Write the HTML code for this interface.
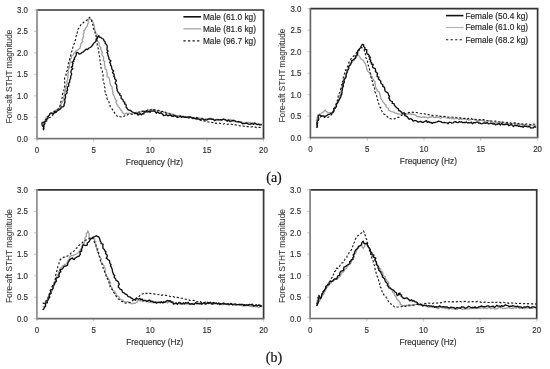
<!DOCTYPE html>
<html><head><meta charset="utf-8"><title>STHT magnitude</title>
<style>html,body{margin:0;padding:0;background:#fff;}body{width:550px;height:369px;overflow:hidden;}svg{display:block;filter:blur(0.3px);} .t text{stroke:#333;stroke-width:0.18px;}</style></head><body>
<svg width="550" height="369" viewBox="0 0 550 369">
<rect x="0" y="0" width="550" height="369" fill="#fff"/>
<g font-family="'Liberation Sans', Arial, sans-serif" class="t"><line x1="34.0" y1="138.7" x2="37.0" y2="138.7" stroke="#c8c8c8" stroke-width="1"/>
<line x1="34.0" y1="117.2" x2="37.0" y2="117.2" stroke="#c8c8c8" stroke-width="1"/>
<line x1="34.0" y1="95.8" x2="37.0" y2="95.8" stroke="#c8c8c8" stroke-width="1"/>
<line x1="34.0" y1="74.3" x2="37.0" y2="74.3" stroke="#c8c8c8" stroke-width="1"/>
<line x1="34.0" y1="52.9" x2="37.0" y2="52.9" stroke="#c8c8c8" stroke-width="1"/>
<line x1="34.0" y1="31.4" x2="37.0" y2="31.4" stroke="#c8c8c8" stroke-width="1"/>
<line x1="34.0" y1="10.0" x2="37.0" y2="10.0" stroke="#c8c8c8" stroke-width="1"/>
<line x1="37.0" y1="138.7" x2="37.0" y2="141.7" stroke="#c8c8c8" stroke-width="1"/>
<line x1="93.6" y1="138.7" x2="93.6" y2="141.7" stroke="#c8c8c8" stroke-width="1"/>
<line x1="150.2" y1="138.7" x2="150.2" y2="141.7" stroke="#c8c8c8" stroke-width="1"/>
<line x1="206.9" y1="138.7" x2="206.9" y2="141.7" stroke="#c8c8c8" stroke-width="1"/>
<line x1="263.5" y1="138.7" x2="263.5" y2="141.7" stroke="#c8c8c8" stroke-width="1"/>
<line x1="37.0" y1="10.0" x2="264.3" y2="10.0" stroke="#333" stroke-width="1.7"/>
<line x1="263.5" y1="10.0" x2="263.5" y2="138.7" stroke="#363636" stroke-width="1.7"/>
<line x1="37.0" y1="138.7" x2="264.3" y2="138.7" stroke="#777" stroke-width="1.7"/>
<line x1="37.0" y1="9.2" x2="37.0" y2="139.5" stroke="#8a8a8a" stroke-width="1.7"/>
<text transform="translate(28.0,141.7) scale(0.9,1)" text-anchor="end" font-size="8.8" fill="#333">0.0</text>
<text transform="translate(28.0,120.2) scale(0.9,1)" text-anchor="end" font-size="8.8" fill="#333">0.5</text>
<text transform="translate(28.0,98.8) scale(0.9,1)" text-anchor="end" font-size="8.8" fill="#333">1.0</text>
<text transform="translate(28.0,77.3) scale(0.9,1)" text-anchor="end" font-size="8.8" fill="#333">1.5</text>
<text transform="translate(28.0,55.9) scale(0.9,1)" text-anchor="end" font-size="8.8" fill="#333">2.0</text>
<text transform="translate(28.0,34.4) scale(0.9,1)" text-anchor="end" font-size="8.8" fill="#333">2.5</text>
<text transform="translate(28.0,13.0) scale(0.9,1)" text-anchor="end" font-size="8.8" fill="#333">3.0</text>
<text transform="translate(37.0,153.2) scale(0.9,1)" text-anchor="middle" font-size="8.8" fill="#333">0</text>
<text transform="translate(93.6,153.2) scale(0.9,1)" text-anchor="middle" font-size="8.8" fill="#333">5</text>
<text transform="translate(150.2,153.2) scale(0.9,1)" text-anchor="middle" font-size="8.8" fill="#333">10</text>
<text transform="translate(206.9,153.2) scale(0.9,1)" text-anchor="middle" font-size="8.8" fill="#333">15</text>
<text transform="translate(263.5,153.2) scale(0.9,1)" text-anchor="middle" font-size="8.8" fill="#333">20</text>
<text x="154.4" y="164.9" text-anchor="middle" font-size="8.3" fill="#333">Frequency (Hz)</text>
<text transform="translate(11.8,76.5) rotate(-90)" x="0" y="0" text-anchor="middle" font-size="8.3" fill="#3a3a3a" style="stroke-width:0.08px">Fore-aft STHT magnitude</text>
<polyline points="42.4,121.4 43.1,122.3 43.9,123.2 43.8,124.5 44.5,123.3 44.0,121.8 45.1,120.8 45.5,119.5 46.0,118.4 46.2,117.1 47.5,116.5 48.5,115.6 49.5,114.6 50.0,113.3 51.5,113.2 52.4,112.5 53.5,112.0 54.2,110.8 55.5,111.0 56.1,109.7 57.5,109.6 58.4,108.7 59.5,108.0 60.7,107.0 61.0,105.5 60.9,104.1 61.6,103.0 62.5,102.0 63.0,100.8 63.9,99.7 63.6,98.3 63.8,97.0 63.9,95.7 65.2,94.7 64.0,93.1 65.0,92.0 65.9,90.9 65.3,89.5 65.3,88.3 65.6,87.0 66.5,86.0 66.4,84.6 67.4,83.3 66.6,81.7 67.4,80.4 67.5,79.0 68.0,77.6 67.7,76.2 68.2,74.8 67.6,73.3 68.6,72.0 68.1,70.5 68.5,69.1 69.5,67.8 69.3,66.4 69.6,65.0 69.5,63.8 70.1,62.6 70.1,61.4 70.0,60.1 70.5,59.0 71.5,57.7 71.5,56.0 72.7,55.5 73.4,54.5 74.0,53.0 75.3,52.2 76.1,50.9 77.5,50.0 78.8,49.1 80.0,48.2 80.3,46.9 80.6,45.5 80.9,43.9 81.8,42.5 82.9,41.5 81.9,39.9 82.9,38.9 83.0,37.5 83.8,36.2 83.1,34.7 83.9,33.4 84.2,32.0 83.8,30.6 85.2,29.7 85.3,28.4 86.2,27.5 87.2,26.4 87.4,25.0 87.8,23.8 88.6,22.6 87.9,21.2 88.5,20.0 89.0,18.5 90.4,19.5 91.5,19.6 92.5,20.5 92.7,21.8 93.3,22.9 93.9,24.0 94.0,25.3 94.5,26.5 94.1,27.9 94.9,29.0 94.4,30.3 95.5,31.2 95.5,32.4 96.0,33.5 97.1,34.5 96.4,36.1 96.9,37.3 97.5,38.5 97.1,40.0 97.7,41.3 99.0,42.4 99.2,43.7 99.1,45.2 99.7,46.4 100.9,47.5 100.6,49.0 101.4,50.1 101.9,51.4 102.4,52.7 101.7,54.3 102.5,55.5 103.4,56.6 103.5,57.8 103.6,59.1 103.1,60.5 104.7,61.4 104.4,62.7 104.5,64.0 104.3,65.3 105.2,66.4 105.0,67.8 105.3,69.1 106.6,70.1 106.7,71.4 107.1,72.7 107.2,74.0 107.0,75.4 107.2,76.7 108.9,77.6 109.3,78.9 109.6,80.2 109.9,81.4 109.9,82.8 110.3,84.0 110.6,85.3 111.5,86.3 112.3,87.4 112.0,88.8 112.5,90.0 112.6,91.3 113.1,92.5 112.8,94.0 113.6,95.0 114.3,96.2 114.6,97.4 114.9,98.7 115.6,99.8 116.8,100.6 115.9,102.3 116.6,103.4 116.9,104.6 118.0,105.5 118.2,106.8 119.4,107.5 119.9,108.5 120.4,109.6 121.8,110.6 122.1,112.3 123.2,113.4 124.5,114.2 125.5,113.3 126.6,113.1 127.8,113.7 129.4,113.2 131.0,113.7 132.4,112.9 134.0,113.2 135.1,112.8 136.2,112.2 137.5,112.8 138.5,111.7 139.7,111.7 141.0,112.0 142.3,110.9 144.0,111.2 145.4,110.6 147.0,110.5 148.0,109.4 149.5,110.5 150.5,109.6 151.6,110.1 153.0,109.6 154.0,110.5 155.6,110.4 157.0,111.2 158.4,111.1 159.7,111.2 161.0,111.6 162.4,111.1 163.6,112.5 165.0,112.0 165.8,113.3 167.3,112.9 168.5,113.4 169.9,113.3 170.8,114.4 172.3,114.0 173.5,114.7 174.8,114.9 176.0,115.6 177.3,116.4 178.9,115.5 180.4,115.6 181.7,116.6 183.0,117.5 184.3,116.8 185.7,116.3 187.0,117.0 188.4,117.2 189.8,116.4 191.1,117.3 192.5,117.4 193.8,118.4 195.2,118.4 196.6,118.3 198.0,118.2 199.4,118.0 200.7,118.4 202.1,118.2 203.4,119.0 204.6,119.4 205.7,118.9 206.9,119.2 208.0,118.6 209.3,118.3 210.7,118.1 212.0,118.6 213.2,119.3 214.4,119.7 215.7,119.6 217.0,119.2 218.2,119.8 219.4,119.9 220.6,119.9 221.8,119.6 223.2,119.2 224.6,119.8 226.0,119.8 227.4,119.7 228.9,119.3 230.3,119.4 231.6,120.3 233.1,120.2 234.6,120.4 236.0,121.0 237.3,121.5 238.6,122.2 240.1,121.5 241.4,121.8 242.4,122.7 243.6,123.0 244.7,123.1 246.0,122.5 247.3,122.4 248.7,122.3 250.0,122.4 251.3,123.0 252.5,122.6 253.7,122.8 254.8,123.7 256.0,123.6 257.1,124.4 258.3,124.4 259.6,123.9 260.8,124.3 262.0,124.2" fill="none" stroke="#a0a0a0" stroke-width="1.3" stroke-linejoin="round"/>
<polyline points="42.8,123.2 43.9,122.3 44.5,121.0 45.2,119.9 46.5,119.4 47.8,118.6 49.0,117.6 50.3,117.3 51.1,116.3 52.5,115.5 53.5,114.2 54.5,113.7 55.2,112.7 56.0,112.0 56.5,110.7 57.8,109.8 58.3,108.5 58.6,107.3 59.6,106.4 60.2,105.3 60.3,104.0 60.5,102.9 60.8,101.7 61.6,100.7 61.4,99.5 62.1,98.2 62.3,96.8 62.2,95.5 62.5,94.3 62.8,93.1 63.8,92.0 63.9,90.8 63.9,89.5 63.7,88.2 64.5,87.1 64.8,85.9 64.5,84.6 64.8,83.2 64.6,81.9 64.9,80.5 64.6,79.1 64.6,77.7 65.2,76.4 66.0,75.3 66.0,74.0 66.2,72.7 66.5,71.5 67.3,70.3 67.1,68.9 67.9,67.8 67.9,66.4 68.5,65.2 68.3,63.8 68.6,62.6 69.2,61.4 69.4,60.1 69.7,58.8 70.3,57.7 70.6,56.4 70.7,55.0 71.2,53.7 71.3,52.3 72.0,51.0 72.7,49.7 72.6,48.2 73.0,46.9 73.4,45.5 73.8,44.4 74.5,43.4 74.4,42.1 74.8,41.0 75.5,40.0 75.5,38.7 75.8,37.6 76.1,36.4 76.5,35.3 76.3,34.1 77.1,33.1 77.5,32.0 77.6,30.6 77.9,29.3 78.8,28.2 79.8,27.3 80.2,26.0 80.6,25.0 81.5,24.5 82.2,23.7 82.9,23.0 84.3,21.8 85.6,20.8 87.0,20.0 88.2,18.5 89.4,17.3 90.4,18.5 91.5,20.0 91.6,21.4 92.1,22.7 92.5,24.0 93.0,25.4 93.1,26.8 93.4,28.2 93.8,29.6 94.0,31.0 95.1,32.1 95.2,33.6 95.4,34.8 96.0,36.0 96.3,37.2 96.1,38.5 96.7,39.7 97.0,40.9 97.2,42.3 97.2,43.7 97.3,45.1 98.0,46.3 98.0,47.7 98.3,49.1 98.6,50.4 98.8,51.8 98.8,53.2 99.3,54.5 99.4,55.9 99.7,57.2 99.5,58.7 100.0,60.0 100.0,61.4 100.6,62.7 100.4,64.0 101.3,65.1 101.2,66.3 101.0,67.6 101.3,68.8 102.2,69.9 102.5,71.1 102.3,72.4 102.5,73.6 103.1,74.9 103.1,76.3 103.5,77.6 103.1,79.0 103.1,80.4 103.2,81.7 103.8,83.0 104.4,84.2 104.1,85.6 104.4,86.8 105.1,88.0 105.0,89.3 104.9,90.6 105.1,91.8 106.1,92.8 105.7,94.1 106.5,95.2 106.7,96.4 107.0,97.6 107.0,98.8 107.6,99.8 108.3,100.7 109.0,101.9 109.2,103.2 109.5,104.5 110.1,105.7 110.3,107.0 111.5,108.5 112.4,109.4 113.0,110.5 113.3,111.7 114.5,112.4 114.8,113.7 115.8,114.8 117.0,115.8 118.0,116.9 119.1,116.4 120.2,116.7 121.3,116.9 122.4,116.8 123.4,116.4 124.5,116.1 125.4,115.2 126.9,115.5 127.8,114.5 129.4,114.5 131.0,114.0 132.1,114.4 133.2,113.4 134.3,113.7 135.3,113.2 136.3,112.8 137.5,113.0 138.7,112.9 139.6,112.1 140.8,112.0 141.8,111.4 142.9,111.4 144.0,111.2 145.2,111.3 146.3,111.0 147.3,110.4 148.9,110.0 150.5,110.0 151.6,109.5 152.8,110.1 153.8,109.6 154.8,109.9 155.9,110.3 157.0,110.4 158.2,110.3 159.3,110.5 160.3,111.2 161.4,111.6 162.7,111.5 163.9,111.4 165.0,112.0 166.0,112.9 167.3,113.2 168.4,113.8 169.8,113.7 170.8,114.6 172.0,115.3 173.5,114.9 174.6,116.0 176.0,116.0 177.4,116.2 178.9,116.3 180.3,116.8 181.7,117.0 183.0,117.6 184.4,117.2 185.7,117.2 187.0,117.8 188.4,118.0 189.8,117.9 191.2,118.0 192.5,118.6 193.9,118.5 195.3,118.7 196.7,119.1 198.0,119.6 199.4,119.8 200.7,120.1 202.0,120.9 203.4,121.0 204.6,121.0 205.7,121.5 206.9,121.4 208.0,122.0 209.4,122.0 210.7,121.9 212.0,122.6 213.3,122.5 214.6,122.4 215.7,123.3 217.0,123.2 218.2,123.4 219.4,123.1 220.6,123.5 221.8,123.6 223.2,124.2 224.6,123.5 226.0,124.0 227.4,124.4 228.8,124.0 230.2,124.1 231.6,124.2 233.0,124.8 234.6,124.6 236.0,125.0 237.3,125.2 238.7,125.5 240.0,126.0 241.4,125.7 242.6,125.7 243.7,126.3 244.8,126.4 246.0,126.3 247.3,126.6 248.7,126.6 250.0,126.7 251.3,127.0 252.5,126.7 253.7,126.8 254.9,126.9 256.0,127.4 257.2,127.8 258.4,127.4 259.6,127.4 260.8,127.5 262.0,128.0" fill="none" stroke="#1a1a1a" stroke-width="1.15" stroke-dasharray="2.2,1.9"/>
<polyline points="42.4,122.1 41.9,123.5 42.0,124.7 42.6,126.0 43.6,127.1 43.9,128.4 43.5,129.7 43.3,128.3 44.0,127.0 43.6,125.5 44.6,124.3 44.9,123.0 44.9,121.7 46.7,120.9 46.2,119.4 47.9,118.6 47.8,116.7 48.7,116.0 49.5,115.1 49.9,113.7 51.1,112.9 52.7,114.0 54.3,113.1 54.3,111.3 55.4,111.5 56.0,112.3 56.6,111.3 57.6,110.7 59.2,109.6 60.8,108.6 61.3,106.9 63.0,106.9 64.1,105.8 64.1,104.6 64.5,103.6 64.8,102.5 65.0,101.1 64.6,99.6 65.4,98.2 65.6,96.8 65.2,95.1 66.2,93.9 67.2,92.8 66.7,91.2 67.6,90.0 67.2,88.5 67.5,87.1 68.8,86.0 68.6,84.7 68.7,83.4 69.6,82.3 69.7,81.0 69.9,79.7 70.6,78.7 70.7,77.6 70.6,76.4 71.2,75.2 71.7,74.0 70.9,72.5 71.0,71.2 71.5,70.0 72.8,68.8 71.3,67.1 72.7,66.0 72.5,64.5 73.0,63.4 72.0,62.1 73.9,61.3 73.4,60.0 74.6,59.5 74.3,58.2 75.0,57.1 75.7,56.1 76.3,55.0 76.1,53.6 76.7,52.5 77.9,52.7 79.2,54.0 80.6,53.6 82.0,52.5 83.4,51.8 84.8,50.5 86.1,49.1 87.5,49.5 88.8,48.2 90.2,47.5 91.5,46.4 92.2,45.5 92.9,44.5 93.6,43.6 94.3,42.7 95.5,41.8 96.1,40.6 96.1,39.1 97.4,38.4 97.5,37.0 98.3,36.4 98.8,35.5 99.1,37.0 100.6,37.3 102.0,38.5 103.4,39.1 104.0,40.7 105.2,41.8 105.1,43.3 106.4,44.4 107.1,45.7 107.2,47.1 107.0,48.6 107.0,50.0 108.1,51.0 106.9,52.6 107.8,53.7 107.9,54.9 108.2,56.1 108.8,57.3 108.8,58.7 109.5,59.8 110.9,60.8 109.6,62.5 110.6,63.6 110.5,65.0 111.4,66.2 111.7,67.5 111.8,68.8 112.5,70.0 113.6,71.1 112.5,72.7 113.7,73.7 114.3,75.0 113.7,76.4 114.8,77.2 114.6,78.7 115.6,79.5 116.4,80.6 115.5,82.0 115.2,83.3 116.4,84.4 116.8,85.6 116.8,86.8 116.6,88.1 117.2,89.3 117.2,90.7 117.9,91.7 118.4,92.8 119.9,93.5 119.6,95.0 120.9,95.6 121.3,96.7 121.0,98.3 122.1,99.0 123.1,100.0 123.2,101.5 124.8,102.2 124.5,103.9 125.9,104.4 126.2,105.7 126.1,107.2 127.0,108.0 127.5,109.1 128.3,109.9 129.4,110.4 130.7,110.5 131.5,111.5 132.6,112.0 133.7,112.5 134.8,113.1 135.9,113.7 137.2,113.2 137.8,115.0 139.1,114.5 140.1,113.6 141.5,114.9 142.4,113.7 143.9,113.9 144.1,111.7 145.7,112.0 146.7,111.6 148.0,112.1 148.9,111.2 150.0,112.2 151.1,111.1 152.2,111.2 153.4,111.0 154.5,111.1 155.4,112.0 156.3,113.2 157.7,111.9 158.7,112.8 159.7,113.3 161.0,112.7 161.9,113.7 162.9,114.3 163.5,115.6 165.0,115.3 166.4,114.5 167.9,115.9 169.4,115.2 170.8,115.2 171.9,116.3 173.3,116.3 174.8,115.6 176.0,116.5 177.3,117.5 178.9,116.8 180.4,116.0 181.7,117.2 183.0,116.2 184.4,117.2 185.7,117.2 187.0,117.3 188.4,117.0 189.8,116.8 191.2,117.3 192.5,117.8 193.9,117.6 195.1,118.9 196.8,117.4 198.0,118.6 199.3,119.3 200.6,119.7 202.2,118.4 203.4,119.4 204.6,120.2 205.7,119.7 206.9,120.1 208.0,119.2 209.3,118.8 210.7,119.0 212.0,119.3 213.3,119.2 214.4,120.6 215.7,119.9 217.0,119.8 218.2,119.6 219.4,119.8 220.6,119.6 221.8,120.1 223.2,119.2 224.6,119.4 226.0,120.3 227.3,121.1 228.8,120.1 230.1,121.6 231.6,120.8 233.2,120.5 234.6,120.8 236.0,121.6 237.3,121.9 238.8,121.5 240.1,122.1 241.4,122.6 242.5,123.7 243.6,123.6 244.8,123.6 246.0,123.0 247.3,123.4 248.6,124.2 249.9,124.4 251.3,123.6 252.5,123.8 253.6,124.3 254.9,123.0 256.0,124.0 257.2,124.6 258.4,124.1 259.5,124.9 260.8,124.8 262.0,124.6" fill="none" stroke="#111" stroke-width="1.35" stroke-linejoin="round"/>
<line x1="183.4" y1="16.8" x2="201.0" y2="16.8" stroke="#111" stroke-width="1.6"/>
<line x1="183.4" y1="28.8" x2="201.0" y2="28.8" stroke="#b0b0b0" stroke-width="1.5"/>
<line x1="183.4" y1="40.9" x2="201.0" y2="40.9" stroke="#1a1a1a" stroke-width="1.3" stroke-dasharray="2.3,2.25"/>
<text x="202.9" y="19.8" font-size="8.3" fill="#222">Male (61.0 kg)</text>
<text x="202.9" y="31.7" font-size="8.3" fill="#222">Male (81.6 kg)</text>
<text x="202.9" y="43.7" font-size="8.3" fill="#222">Male (96.7 kg)</text></g>
<g font-family="'Liberation Sans', Arial, sans-serif" class="t"><line x1="307.4" y1="137.7" x2="310.4" y2="137.7" stroke="#c8c8c8" stroke-width="1"/>
<line x1="307.4" y1="116.2" x2="310.4" y2="116.2" stroke="#c8c8c8" stroke-width="1"/>
<line x1="307.4" y1="94.7" x2="310.4" y2="94.7" stroke="#c8c8c8" stroke-width="1"/>
<line x1="307.4" y1="73.2" x2="310.4" y2="73.2" stroke="#c8c8c8" stroke-width="1"/>
<line x1="307.4" y1="51.7" x2="310.4" y2="51.7" stroke="#c8c8c8" stroke-width="1"/>
<line x1="307.4" y1="30.2" x2="310.4" y2="30.2" stroke="#c8c8c8" stroke-width="1"/>
<line x1="307.4" y1="8.7" x2="310.4" y2="8.7" stroke="#c8c8c8" stroke-width="1"/>
<line x1="310.4" y1="137.7" x2="310.4" y2="140.7" stroke="#c8c8c8" stroke-width="1"/>
<line x1="367.2" y1="137.7" x2="367.2" y2="140.7" stroke="#c8c8c8" stroke-width="1"/>
<line x1="424.0" y1="137.7" x2="424.0" y2="140.7" stroke="#c8c8c8" stroke-width="1"/>
<line x1="480.8" y1="137.7" x2="480.8" y2="140.7" stroke="#c8c8c8" stroke-width="1"/>
<line x1="537.6" y1="137.7" x2="537.6" y2="140.7" stroke="#c8c8c8" stroke-width="1"/>
<line x1="310.4" y1="8.7" x2="538.4" y2="8.7" stroke="#333" stroke-width="1.7"/>
<line x1="537.6" y1="8.7" x2="537.6" y2="137.7" stroke="#363636" stroke-width="1.7"/>
<line x1="310.4" y1="137.7" x2="538.4" y2="137.7" stroke="#747474" stroke-width="1.7"/>
<line x1="310.4" y1="7.9" x2="310.4" y2="138.5" stroke="#666" stroke-width="1.7"/>
<text transform="translate(301.4,140.7) scale(0.9,1)" text-anchor="end" font-size="8.8" fill="#333">0.0</text>
<text transform="translate(301.4,119.2) scale(0.9,1)" text-anchor="end" font-size="8.8" fill="#333">0.5</text>
<text transform="translate(301.4,97.7) scale(0.9,1)" text-anchor="end" font-size="8.8" fill="#333">1.0</text>
<text transform="translate(301.4,76.2) scale(0.9,1)" text-anchor="end" font-size="8.8" fill="#333">1.5</text>
<text transform="translate(301.4,54.7) scale(0.9,1)" text-anchor="end" font-size="8.8" fill="#333">2.0</text>
<text transform="translate(301.4,33.2) scale(0.9,1)" text-anchor="end" font-size="8.8" fill="#333">2.5</text>
<text transform="translate(301.4,11.7) scale(0.9,1)" text-anchor="end" font-size="8.8" fill="#333">3.0</text>
<text transform="translate(310.4,152.2) scale(0.9,1)" text-anchor="middle" font-size="8.8" fill="#333">0</text>
<text transform="translate(367.2,152.2) scale(0.9,1)" text-anchor="middle" font-size="8.8" fill="#333">5</text>
<text transform="translate(424.0,152.2) scale(0.9,1)" text-anchor="middle" font-size="8.8" fill="#333">10</text>
<text transform="translate(480.8,152.2) scale(0.9,1)" text-anchor="middle" font-size="8.8" fill="#333">15</text>
<text transform="translate(537.6,152.2) scale(0.9,1)" text-anchor="middle" font-size="8.8" fill="#333">20</text>
<text x="428.4" y="163.7" text-anchor="middle" font-size="8.3" fill="#333">Frequency (Hz)</text>
<text transform="translate(285.2,75.6) rotate(-90)" x="0" y="0" text-anchor="middle" font-size="8.3" fill="#3a3a3a" style="stroke-width:0.08px">Fore-aft STHT magnitude</text>
<polyline points="316.3,121.0 316.5,119.9 317.3,119.1 317.0,117.7 318.8,116.9 317.9,115.3 318.9,114.3 320.1,113.9 321.4,113.5 322.4,112.4 323.8,111.8 324.4,110.8 325.4,110.2 326.0,111.3 327.1,111.8 328.0,113.0 329.5,112.6 330.8,112.7 331.9,113.5 332.8,112.6 333.2,111.5 333.5,110.3 334.4,109.4 335.0,108.5 335.3,107.4 336.0,106.5 336.0,105.1 336.5,103.9 337.6,102.9 337.6,101.4 339.1,100.5 338.9,99.0 339.3,97.6 339.2,96.1 340.1,94.8 341.1,93.7 341.5,92.5 340.9,91.0 340.6,89.6 341.5,88.5 341.5,87.3 342.5,86.6 342.2,85.1 342.9,83.9 342.8,82.4 343.4,81.1 343.7,79.8 344.6,78.6 344.8,77.2 345.9,76.0 346.3,74.6 346.4,73.0 346.8,71.6 347.3,70.3 348.0,69.0 348.6,67.9 348.9,66.6 349.6,65.5 349.9,64.4 350.1,63.1 351.3,62.5 351.8,61.4 352.9,60.8 354.2,60.6 354.5,59.3 354.6,58.0 355.7,57.5 356.4,56.8 357.0,56.0 358.2,55.5 359.4,56.0 360.0,57.2 360.5,58.6 361.8,59.3 363.0,60.1 363.8,61.2 364.3,62.5 365.3,63.5 365.7,64.9 366.2,66.1 366.7,67.4 366.6,69.0 367.4,70.1 367.9,71.4 369.1,72.3 370.4,73.2 371.1,74.4 370.7,76.1 371.6,77.2 372.3,76.6 372.2,78.1 373.3,79.2 373.7,80.6 375.1,81.5 374.8,83.1 375.5,84.3 375.1,86.0 375.7,87.2 376.2,88.5 377.2,89.6 377.0,91.0 378.7,91.6 379.4,92.6 379.9,93.7 379.8,95.0 380.4,96.1 380.7,97.3 380.8,98.6 381.7,99.5 382.4,100.5 382.7,101.7 383.7,102.6 384.4,103.5 384.9,104.6 386.3,105.1 385.9,106.8 387.0,107.5 388.3,108.2 388.5,110.0 389.8,110.7 391.0,111.6 392.5,111.8 394.0,112.1 395.1,113.2 396.5,113.1 397.7,114.0 399.1,114.0 400.3,114.5 401.7,113.7 402.9,113.9 404.0,114.8 405.2,114.6 406.5,114.5 407.6,114.0 408.9,114.0 410.2,113.7 411.3,114.6 412.7,113.8 413.8,114.8 415.1,114.9 416.3,115.6 417.2,116.8 418.7,116.5 419.9,116.9 421.1,117.5 422.5,117.0 423.8,116.8 425.0,117.4 426.2,116.9 427.4,118.1 428.6,117.6 429.8,116.9 431.0,117.2 432.3,116.4 433.5,117.3 434.7,117.6 436.0,117.4 437.2,117.3 438.4,117.1 439.6,117.8 440.8,118.3 442.0,117.6 443.3,117.2 444.6,117.0 445.8,117.6 447.0,118.0 448.2,117.9 449.4,118.5 450.6,117.7 451.8,118.8 453.0,118.4 454.2,118.9 455.5,118.6 456.8,118.2 458.0,118.8 459.1,119.7 460.4,118.6 461.6,119.6 462.8,118.7 464.0,119.2 465.2,118.8 466.4,119.8 467.6,119.1 468.7,120.3 470.0,119.6 471.3,119.7 472.5,119.3 473.8,119.4 475.0,120.0 476.3,120.0 477.5,120.6 478.7,121.2 480.0,120.6 481.3,120.1 482.4,120.7 483.6,120.5 484.7,121.9 486.0,121.2 487.3,120.7 488.5,120.7 489.7,120.8 490.8,121.5 492.0,121.8 493.1,122.6 494.3,122.7 495.6,122.6 496.7,123.1 498.0,122.4 499.1,123.3 500.4,122.4 501.7,122.2 502.7,123.6 504.0,123.0 505.2,123.5 506.5,122.4 507.6,123.6 508.8,123.3 510.0,123.6 511.2,123.5 512.4,123.6 513.7,123.4 514.9,123.2 516.0,124.2 517.2,123.9 518.4,124.2 519.5,125.3 520.9,124.0 522.0,124.8 523.1,125.7 524.4,124.5 525.6,124.9 526.7,125.8 528.0,125.4 529.3,126.0 530.7,125.5 532.1,124.9 533.3,125.8 534.7,125.7 536.0,126.0" fill="none" stroke="#a0a0a0" stroke-width="1.3" stroke-linejoin="round"/>
<polyline points="316.5,128.1 317.1,126.9 316.7,125.5 317.1,124.2 317.8,123.0 317.2,121.6 317.8,120.4 318.1,119.1 319.1,118.5 320.0,117.7 320.6,116.7 321.7,116.4 322.6,117.0 323.7,116.8 324.6,117.5 326.3,117.6 327.9,117.5 329.5,116.5 330.0,115.5 331.1,115.1 332.3,114.0 332.8,112.5 333.1,111.4 334.1,110.5 334.4,109.4 335.2,108.4 335.0,107.1 335.6,106.0 335.8,104.9 336.8,104.1 336.8,102.9 337.2,101.7 337.2,100.4 337.9,99.3 338.0,98.0 338.1,96.7 338.4,95.5 338.5,94.2 339.3,93.1 339.9,92.0 340.5,90.8 340.6,89.5 340.9,88.3 341.5,86.9 342.2,85.7 341.6,84.3 342.0,83.0 342.5,81.8 343.3,80.7 343.5,79.4 343.3,78.0 343.4,76.7 343.9,75.5 344.3,74.2 344.9,72.9 345.8,71.8 345.6,70.2 346.4,69.0 347.2,67.8 347.6,66.5 348.1,65.2 348.6,63.9 348.8,62.5 349.7,61.3 350.4,60.0 351.1,58.7 352.1,57.6 352.8,56.7 353.7,56.0 354.4,55.1 355.3,54.4 356.1,53.8 356.5,52.8 356.8,51.7 357.8,51.1 358.2,50.1 359.0,49.5 359.8,48.9 360.2,47.9 361.4,47.6 362.6,47.9 363.6,48.9 364.3,50.1 364.4,51.6 365.1,52.8 365.6,54.0 365.2,55.3 365.6,56.5 365.8,57.8 366.8,58.8 367.3,60.0 367.6,61.2 367.5,62.5 367.9,63.7 368.0,64.9 368.6,66.0 369.2,67.1 369.4,68.3 369.5,69.6 370.0,70.7 370.1,72.2 370.2,73.6 370.7,75.0 370.7,76.3 371.1,77.5 372.0,78.6 371.6,80.0 372.4,81.1 372.4,82.4 372.9,83.5 373.1,84.8 373.2,86.0 374.1,87.0 374.4,88.2 374.8,89.4 375.2,90.5 374.9,91.9 375.6,92.9 375.9,94.3 376.6,95.6 376.9,96.9 376.7,98.4 377.6,99.7 378.0,101.0 378.7,102.2 378.7,103.7 379.3,105.0 379.5,106.4 380.4,107.5 381.3,108.4 381.5,109.7 381.8,110.9 382.3,112.0 382.8,113.1 383.7,114.0 385.0,114.5 385.9,115.5 387.0,116.2 387.8,117.3 389.2,117.5 390.3,118.8 391.8,118.9 393.2,118.7 394.6,118.8 395.9,118.1 397.2,117.4 398.8,117.4 400.0,116.5 401.0,115.8 401.9,115.0 403.1,114.9 404.0,114.0 405.4,114.0 406.3,112.8 407.7,112.9 408.9,112.4 410.1,112.5 411.4,112.1 412.6,112.3 413.8,112.4 415.1,112.2 416.3,112.5 417.5,112.8 418.7,113.2 419.9,113.5 421.2,113.7 422.5,113.4 423.8,113.4 425.0,114.0 426.2,114.1 427.4,114.8 428.7,114.6 429.8,115.0 431.0,115.5 432.3,115.3 433.5,116.0 434.7,115.9 436.0,116.0 437.2,115.6 438.4,115.8 439.6,116.1 440.8,116.4 442.0,116.4 443.2,116.7 444.5,116.3 445.8,116.5 447.0,117.0 448.2,117.2 449.4,117.0 450.6,116.9 451.8,117.0 453.0,117.2 454.2,117.8 455.5,117.3 456.7,117.7 458.0,117.8 459.2,117.8 460.4,117.9 461.6,118.5 462.8,118.7 464.0,118.3 465.2,118.3 466.4,118.2 467.6,118.8 468.8,118.4 470.0,118.8 471.3,118.4 472.5,119.4 473.8,119.0 475.0,119.2 476.2,119.6 477.5,119.3 478.7,119.9 480.0,119.6 481.2,119.7 482.4,119.6 483.7,119.6 484.8,120.3 486.0,120.4 487.2,120.7 488.4,121.0 489.6,120.4 490.8,121.0 492.0,121.0 493.2,121.0 494.4,121.2 495.6,121.0 496.8,121.3 498.0,121.6 499.2,121.7 500.4,122.3 501.6,121.6 502.8,122.1 504.0,122.2 505.2,122.6 506.4,122.9 507.6,122.3 508.8,122.3 510.0,122.8 511.2,123.3 512.4,123.5 513.6,123.1 514.8,122.8 516.0,123.3 517.2,123.8 518.4,123.4 519.6,124.0 520.8,123.8 522.0,123.8 523.2,124.2 524.4,123.6 525.6,124.3 526.8,123.8 528.0,124.2 529.3,124.2 530.7,124.6 532.0,124.7 533.3,124.1 534.7,124.2 536.0,124.5" fill="none" stroke="#1a1a1a" stroke-width="1.15" stroke-dasharray="2.2,1.9"/>
<polyline points="316.5,124.0 317.1,125.5 317.2,127.0 317.4,125.6 317.2,124.3 316.8,122.9 317.2,121.5 318.3,120.3 318.8,118.9 318.1,117.5 318.2,115.7 319.8,115.0 321.4,116.0 323.0,115.9 324.6,116.5 326.3,115.9 327.2,115.4 327.9,114.6 329.5,114.3 331.1,113.3 332.8,112.6 333.9,111.5 334.0,110.0 333.7,108.4 335.2,107.8 336.5,106.7 336.4,105.0 336.3,103.6 337.6,102.9 338.4,101.5 338.9,100.0 339.6,99.1 340.1,98.0 340.9,97.1 340.8,95.7 341.7,94.8 341.7,93.5 342.1,92.3 341.9,91.0 342.5,89.8 342.3,88.5 342.7,87.4 343.3,86.3 343.4,85.0 342.8,83.6 344.3,82.6 344.3,81.3 344.0,79.9 344.8,78.8 345.7,77.7 346.2,76.4 346.0,75.0 346.5,73.6 347.2,72.3 347.1,70.8 348.2,69.7 348.8,68.5 348.6,67.0 349.2,65.8 350.4,65.0 350.9,63.7 351.7,62.5 351.5,60.9 352.9,60.1 354.0,59.2 355.3,58.5 355.8,57.5 355.3,56.1 356.6,55.5 357.5,54.3 357.8,52.8 357.5,51.1 359.3,50.2 359.4,48.7 360.7,47.8 361.0,46.3 361.7,45.3 362.3,44.3 363.7,44.7 363.6,46.2 364.3,47.1 365.1,48.0 364.7,49.6 366.8,49.7 366.7,51.1 366.7,52.5 367.0,53.7 368.1,54.4 369.1,55.2 368.9,56.6 370.5,57.4 369.4,59.2 370.8,60.1 370.3,61.6 371.6,62.5 371.3,64.0 373.2,64.5 372.5,66.2 372.7,67.4 374.0,68.2 375.4,68.7 375.5,70.1 375.4,71.6 376.5,72.3 377.5,73.5 377.2,75.0 377.1,76.6 378.8,77.2 378.4,79.0 379.6,79.9 380.8,80.9 380.7,82.4 381.3,83.7 382.9,84.8 382.6,86.4 384.4,87.2 384.8,88.5 384.8,90.0 385.3,91.3 386.4,92.1 387.7,92.7 388.3,93.9 388.6,95.3 389.7,96.2 388.7,97.9 389.7,98.9 389.8,100.2 391.0,101.0 392.4,101.6 392.2,103.4 394.1,103.6 394.3,105.1 395.3,106.2 396.2,107.4 397.5,108.3 398.5,108.9 398.6,110.5 399.9,110.9 400.8,111.6 401.7,112.3 402.4,113.5 404.2,112.7 404.8,114.0 404.8,115.7 406.2,116.2 407.4,116.9 408.1,118.1 409.2,119.2 411.0,118.7 412.2,119.7 413.1,121.1 414.5,120.7 415.9,120.6 417.0,121.3 418.1,122.1 419.5,121.6 420.8,121.3 421.9,122.2 423.6,122.2 425.0,121.3 426.4,120.6 427.3,122.4 428.7,121.5 429.7,122.5 431.0,122.4 432.3,123.4 433.5,122.5 434.8,122.6 436.0,122.2 437.2,121.8 438.4,121.2 439.6,121.3 440.8,121.6 442.0,122.4 443.2,122.7 444.5,122.5 445.7,122.7 447.0,122.8 448.2,123.7 449.4,122.1 450.6,122.3 451.8,123.2 453.0,122.9 454.2,121.8 455.4,121.7 456.7,122.4 458.0,122.6 459.2,121.7 460.4,122.2 461.6,121.9 462.8,122.6 464.0,122.4 465.2,122.7 466.4,121.9 467.6,122.9 468.8,122.7 470.0,122.8 471.3,122.1 472.5,123.8 473.8,122.4 475.0,123.0 476.2,122.2 477.5,122.1 478.8,123.2 480.0,122.9 481.1,123.8 482.4,123.7 483.6,123.0 484.8,122.8 486.0,123.4 487.2,122.4 488.4,123.8 489.6,123.7 490.8,123.2 492.0,123.6 493.2,124.0 494.4,123.6 495.5,124.8 496.8,124.4 498.0,124.0 499.3,123.6 500.3,125.1 501.7,123.4 502.8,124.5 504.0,124.6 505.2,124.5 506.5,124.3 507.7,124.0 508.7,125.7 510.0,125.2 511.3,124.3 512.4,125.5 513.5,126.5 514.9,124.9 516.0,125.8 517.3,125.3 518.4,126.3 519.6,126.2 520.8,126.6 522.0,126.4 523.1,127.2 524.5,126.0 525.6,126.4 526.8,126.5 528.0,127.0 529.4,126.1 530.6,128.0 532.0,127.8 533.3,127.8 534.7,126.4 536.0,127.5" fill="none" stroke="#111" stroke-width="1.35" stroke-linejoin="round"/>
<line x1="446.0" y1="15.6" x2="463.4" y2="15.6" stroke="#111" stroke-width="1.6"/>
<line x1="446.0" y1="27.5" x2="463.4" y2="27.5" stroke="#b0b0b0" stroke-width="1.1"/>
<line x1="446.0" y1="39.7" x2="463.4" y2="39.7" stroke="#1a1a1a" stroke-width="1.1" stroke-dasharray="2.3,2.25"/>
<text x="465.4" y="18.7" font-size="8.3" fill="#222">Female (50.4 kg)</text>
<text x="465.4" y="30.4" font-size="8.3" fill="#222">Female (61.0 kg)</text>
<text x="465.4" y="42.6" font-size="8.3" fill="#222">Female (68.2 kg)</text></g>
<g font-family="'Liberation Sans', Arial, sans-serif" class="t"><line x1="33.9" y1="318.7" x2="36.9" y2="318.7" stroke="#c8c8c8" stroke-width="1"/>
<line x1="33.9" y1="297.2" x2="36.9" y2="297.2" stroke="#c8c8c8" stroke-width="1"/>
<line x1="33.9" y1="275.8" x2="36.9" y2="275.8" stroke="#c8c8c8" stroke-width="1"/>
<line x1="33.9" y1="254.3" x2="36.9" y2="254.3" stroke="#c8c8c8" stroke-width="1"/>
<line x1="33.9" y1="232.8" x2="36.9" y2="232.8" stroke="#c8c8c8" stroke-width="1"/>
<line x1="33.9" y1="211.4" x2="36.9" y2="211.4" stroke="#c8c8c8" stroke-width="1"/>
<line x1="33.9" y1="189.9" x2="36.9" y2="189.9" stroke="#c8c8c8" stroke-width="1"/>
<line x1="36.9" y1="318.7" x2="36.9" y2="321.7" stroke="#c8c8c8" stroke-width="1"/>
<line x1="93.6" y1="318.7" x2="93.6" y2="321.7" stroke="#c8c8c8" stroke-width="1"/>
<line x1="150.2" y1="318.7" x2="150.2" y2="321.7" stroke="#c8c8c8" stroke-width="1"/>
<line x1="206.9" y1="318.7" x2="206.9" y2="321.7" stroke="#c8c8c8" stroke-width="1"/>
<line x1="263.6" y1="318.7" x2="263.6" y2="321.7" stroke="#c8c8c8" stroke-width="1"/>
<line x1="36.9" y1="189.9" x2="264.4" y2="189.9" stroke="#333" stroke-width="1.7"/>
<line x1="263.6" y1="189.9" x2="263.6" y2="318.7" stroke="#363636" stroke-width="1.7"/>
<line x1="36.9" y1="318.7" x2="264.4" y2="318.7" stroke="#6b6b6b" stroke-width="1.7"/>
<line x1="36.9" y1="189.1" x2="36.9" y2="319.5" stroke="#8e8e8e" stroke-width="1.7"/>
<text transform="translate(27.9,321.7) scale(0.9,1)" text-anchor="end" font-size="8.8" fill="#333">0.0</text>
<text transform="translate(27.9,300.2) scale(0.9,1)" text-anchor="end" font-size="8.8" fill="#333">0.5</text>
<text transform="translate(27.9,278.8) scale(0.9,1)" text-anchor="end" font-size="8.8" fill="#333">1.0</text>
<text transform="translate(27.9,257.3) scale(0.9,1)" text-anchor="end" font-size="8.8" fill="#333">1.5</text>
<text transform="translate(27.9,235.8) scale(0.9,1)" text-anchor="end" font-size="8.8" fill="#333">2.0</text>
<text transform="translate(27.9,214.4) scale(0.9,1)" text-anchor="end" font-size="8.8" fill="#333">2.5</text>
<text transform="translate(27.9,192.9) scale(0.9,1)" text-anchor="end" font-size="8.8" fill="#333">3.0</text>
<text transform="translate(36.9,333.2) scale(0.9,1)" text-anchor="middle" font-size="8.8" fill="#333">0</text>
<text transform="translate(93.6,333.2) scale(0.9,1)" text-anchor="middle" font-size="8.8" fill="#333">5</text>
<text transform="translate(150.2,333.2) scale(0.9,1)" text-anchor="middle" font-size="8.8" fill="#333">10</text>
<text transform="translate(206.9,333.2) scale(0.9,1)" text-anchor="middle" font-size="8.8" fill="#333">15</text>
<text transform="translate(263.6,333.2) scale(0.9,1)" text-anchor="middle" font-size="8.8" fill="#333">20</text>
<text x="154.8" y="345.0" text-anchor="middle" font-size="8.3" fill="#333">Frequency (Hz)</text>
<text transform="translate(11.6,256.0) rotate(-90)" x="0" y="0" text-anchor="middle" font-size="8.3" fill="#3a3a3a" style="stroke-width:0.08px">Fore-aft STHT magnitude</text>
<polyline points="42.7,306.0 44.0,307.0 45.0,306.1 45.4,304.8 45.5,303.5 46.0,302.4 47.1,301.5 47.2,300.2 47.5,298.9 48.5,298.0 48.4,296.5 49.1,295.4 49.3,294.1 50.2,293.1 51.0,292.0 52.0,290.9 52.5,289.6 53.4,288.5 53.5,287.0 54.2,285.8 53.9,284.3 54.8,283.1 55.0,281.8 55.5,280.5 56.4,279.5 56.4,278.2 56.4,276.8 57.2,275.8 58.0,274.7 59.1,273.7 58.6,271.9 59.6,270.9 60.8,270.2 60.1,268.4 61.1,267.6 62.1,266.8 62.6,265.7 64.0,265.5 64.5,264.4 66.2,264.2 67.0,262.8 68.0,261.8 67.9,260.2 69.4,259.4 69.4,257.9 70.0,256.9 70.7,255.9 71.8,255.4 73.3,255.7 74.3,254.6 75.6,254.4 76.7,253.8 77.7,253.2 78.5,252.4 79.1,251.4 80.4,250.8 80.3,249.3 81.5,248.6 81.6,247.3 82.5,246.4 83.3,245.6 83.3,244.2 84.0,243.2 84.7,242.2 84.7,241.0 84.9,239.9 85.0,238.6 85.2,237.3 86.3,236.3 86.5,235.0 86.2,233.4 87.9,232.4 87.6,230.9 88.5,232.2 89.0,233.6 89.2,235.0 88.9,236.6 89.2,238.0 90.6,238.3 91.7,237.6 93.0,237.4 94.1,238.2 94.8,239.3 94.6,240.7 95.8,241.7 95.1,243.3 95.7,244.4 96.3,245.6 96.3,246.8 96.6,248.0 98.0,248.8 97.4,250.2 97.9,251.3 98.6,252.5 98.4,254.1 98.8,255.4 99.2,256.7 100.3,257.8 101.5,258.8 100.7,260.6 101.1,262.0 101.6,263.3 102.8,264.3 103.9,265.4 104.2,266.7 104.9,268.0 105.5,269.2 105.2,270.8 105.1,272.3 105.7,273.6 106.4,274.8 106.6,276.2 107.6,277.3 108.0,278.7 109.1,279.8 109.3,281.3 110.3,282.3 110.6,283.5 109.8,284.9 110.5,286.0 111.6,286.9 112.1,288.2 112.6,289.5 113.1,290.7 114.6,291.2 115.1,292.4 115.9,293.5 116.4,294.7 116.9,295.8 118.2,296.2 119.0,297.0 119.6,298.0 120.2,299.4 121.8,299.6 122.9,300.4 123.7,301.5 124.9,301.6 126.1,302.0 127.4,301.5 128.3,302.4 129.4,302.8 130.5,303.0 131.4,303.8 132.6,303.7 133.6,303.1 134.9,303.4 135.9,302.8 137.0,302.1 137.7,300.8 139.1,300.4 140.2,301.2 141.7,300.1 142.7,301.5 144.0,301.2 145.4,300.8 146.7,300.7 148.0,301.2 149.1,302.3 150.5,302.0 151.8,302.8 153.1,301.2 154.4,302.0 155.7,302.0 157.0,302.0 158.3,302.6 159.7,301.6 161.0,302.2 162.3,302.0 163.6,302.9 165.0,302.4 166.2,301.9 167.6,303.0 168.7,301.7 170.0,302.0 171.4,301.9 172.4,303.1 173.8,303.1 175.0,303.5 176.2,302.9 177.4,303.9 178.6,303.0 179.8,304.2 181.0,303.8 182.2,304.2 183.4,304.4 184.6,304.1 185.8,303.7 187.0,304.0 188.2,303.8 189.5,303.8 190.8,304.6 192.0,303.9 193.2,303.2 194.4,304.5 195.6,303.0 196.8,303.2 198.0,303.7 199.2,303.3 200.5,304.3 201.8,303.6 203.0,303.6 204.2,303.4 205.4,304.3 206.6,303.1 207.8,303.5 209.0,303.6 210.2,303.7 211.4,304.1 212.6,304.1 213.8,304.0 215.0,303.8 216.2,303.6 217.4,303.7 218.6,303.5 219.8,304.7 221.0,304.2 222.2,304.5 223.4,304.7 224.6,303.8 225.8,304.3 227.0,304.5 228.4,305.0 229.8,304.8 231.2,304.0 232.6,304.7 234.0,304.8 235.4,305.6 236.8,304.6 238.2,304.6 239.6,304.9 241.0,305.3 242.2,305.8 243.4,306.2 244.8,305.2 246.0,306.0 247.3,305.5 248.5,305.8 249.8,306.1 251.0,306.5 252.2,306.6 253.5,306.1 254.8,306.4 256.0,306.8 257.2,306.3 258.4,307.7 259.6,307.3 260.8,306.3 262.0,307.0" fill="none" stroke="#a0a0a0" stroke-width="1.3" stroke-linejoin="round"/>
<polyline points="42.7,302.7 43.4,303.5 44.5,303.5 44.8,302.1 45.7,301.1 46.5,300.0 47.5,299.1 47.9,297.9 48.4,296.8 48.6,295.5 49.0,294.3 49.8,293.3 50.4,292.1 50.3,290.7 50.9,289.5 51.5,288.4 51.6,287.1 52.5,286.0 53.0,284.6 53.9,283.5 54.4,282.1 54.8,280.7 55.1,279.3 55.5,278.0 55.6,276.6 55.5,275.2 56.2,273.9 56.4,272.5 56.6,271.2 57.3,270.0 57.8,268.7 57.6,267.3 58.0,266.0 58.5,264.8 59.0,263.6 59.1,262.3 59.6,261.1 60.2,259.7 61.3,258.7 62.6,258.1 63.7,257.1 65.0,257.1 66.1,256.3 67.4,256.1 68.6,255.4 69.5,254.7 70.4,254.0 71.0,253.0 72.3,252.4 73.5,251.4 74.4,250.7 75.1,249.7 75.9,248.9 76.6,248.0 77.6,247.4 78.3,246.5 78.9,245.4 79.9,244.8 80.8,244.1 81.8,243.4 82.6,242.5 83.3,241.5 84.4,241.1 85.3,240.2 86.5,239.9 87.6,239.3 88.7,238.8 89.8,238.3 91.0,238.0 92.2,237.4 93.1,238.6 93.8,239.9 94.2,241.3 94.5,242.8 95.4,244.0 96.0,245.0 95.9,246.3 96.2,247.4 96.9,248.4 97.1,249.6 97.5,250.8 97.4,252.2 98.7,253.1 98.7,254.5 99.1,255.7 99.8,256.8 99.6,258.3 100.3,259.4 100.3,260.8 101.1,261.9 102.0,262.9 102.0,264.3 102.4,265.6 102.9,266.9 103.2,268.3 103.9,269.5 104.4,270.8 104.7,272.1 104.9,273.4 105.6,274.5 106.0,275.7 106.6,276.8 106.6,278.1 107.8,278.9 107.8,280.3 108.5,281.3 109.1,282.5 109.3,284.0 110.4,285.0 110.0,286.6 111.1,287.7 111.5,289.0 112.5,289.9 113.0,291.2 113.6,292.4 114.6,293.3 114.8,294.7 115.7,295.7 116.5,296.7 117.0,297.9 118.0,298.8 119.2,299.5 120.3,300.2 121.3,301.2 122.5,301.5 123.3,302.5 124.5,302.8 125.6,303.2 126.7,302.8 127.8,302.8 128.8,302.3 130.0,302.6 131.0,302.0 132.0,301.1 133.0,300.2 134.3,299.6 135.1,298.5 136.6,298.2 137.5,297.2 138.8,296.6 139.8,295.6 140.8,294.7 141.9,294.1 143.0,293.7 144.0,293.1 145.2,292.8 146.4,293.6 147.7,293.0 148.9,293.1 150.1,293.4 151.3,293.8 152.5,294.0 153.8,293.9 155.0,294.1 156.3,294.1 157.5,294.5 158.7,294.7 160.0,294.4 161.2,295.3 162.5,294.9 163.7,295.5 165.0,295.3 166.3,295.4 167.4,295.7 168.7,295.9 169.8,296.3 171.0,296.7 172.3,296.6 173.6,296.6 174.7,297.5 176.0,297.5 177.2,297.4 178.4,297.6 179.6,297.8 180.8,298.1 182.0,298.3 183.3,298.5 184.5,299.0 185.7,299.3 187.0,299.4 188.4,299.5 189.7,300.4 191.1,300.6 192.5,300.5 194.0,300.3 195.2,301.4 196.5,301.7 198.0,301.6 199.2,302.1 200.6,301.7 201.7,302.6 203.0,302.5 204.2,302.7 205.4,302.2 206.6,302.3 207.8,303.4 209.0,303.0 210.2,303.2 211.4,302.9 212.6,302.8 213.8,302.9 215.0,303.3 216.2,303.1 217.4,303.7 218.6,303.4 219.8,303.3 221.0,303.7 222.2,304.2 223.4,304.1 224.6,303.5 225.8,304.3 227.0,304.0 228.4,304.1 229.8,304.4 231.2,304.3 232.6,304.6 234.0,304.2 235.4,304.5 236.8,304.7 238.2,304.1 239.6,304.6 241.0,304.5 242.2,304.6 243.5,304.8 244.8,304.6 246.0,304.7 247.2,305.2 248.5,304.9 249.8,304.7 251.0,305.0 252.3,304.8 253.5,304.7 254.8,305.1 256.0,305.2 257.2,304.8 258.4,305.3 259.6,305.0 260.8,305.4 262.0,305.5" fill="none" stroke="#1a1a1a" stroke-width="1.15" stroke-dasharray="2.2,1.9"/>
<polyline points="42.7,310.0 43.3,309.2 44.0,308.5 44.6,307.2 45.7,306.1 45.5,304.5 45.1,303.0 47.3,302.8 47.1,301.3 47.9,300.4 48.3,299.3 49.0,298.2 49.8,297.1 49.3,295.6 49.7,294.4 51.2,293.5 50.7,292.0 50.5,290.4 52.2,289.7 52.8,288.5 53.1,287.2 52.8,285.5 54.4,284.6 54.8,283.1 55.6,282.0 56.5,280.9 55.7,279.3 56.4,278.2 58.0,277.4 59.4,276.5 58.8,275.0 59.2,273.7 59.6,272.5 60.9,271.8 59.9,269.9 61.3,269.3 62.4,268.8 63.1,267.8 63.7,266.8 64.8,266.1 66.1,266.0 67.6,265.2 67.8,263.6 68.1,262.4 68.8,261.4 69.4,260.3 70.2,259.5 71.0,258.7 72.6,257.9 73.1,259.1 74.3,259.5 74.7,258.3 75.8,257.8 76.7,257.1 77.8,256.5 79.1,256.3 79.5,255.2 80.4,254.2 80.0,252.9 80.1,251.6 81.7,251.0 81.6,249.6 81.8,248.3 82.5,247.2 82.4,245.8 83.3,244.8 84.5,245.2 85.7,245.6 87.3,244.9 87.3,243.1 88.4,242.2 89.4,241.3 89.8,239.9 90.8,238.8 92.2,238.3 93.2,237.1 94.6,236.6 96.3,235.8 97.9,236.6 99.0,237.2 99.5,238.3 99.9,239.7 100.3,241.1 101.1,242.3 101.1,243.7 103.1,244.1 102.8,245.6 102.9,247.1 103.1,248.5 104.4,249.5 104.7,250.8 106.0,251.8 105.5,253.3 106.3,254.3 107.2,255.3 107.3,256.5 106.2,258.1 107.4,259.0 108.3,259.9 109.5,260.5 109.7,261.9 109.9,263.4 111.0,264.5 110.5,266.0 111.4,267.1 111.7,268.3 112.3,269.5 112.4,270.8 112.6,272.0 113.2,273.2 113.4,274.5 114.7,275.4 114.1,276.9 114.8,278.0 115.7,278.9 116.0,280.3 117.2,280.9 118.4,281.9 118.6,283.1 119.3,284.2 118.3,285.9 118.4,287.3 119.6,288.2 120.2,289.3 121.5,289.7 122.1,290.7 122.4,292.0 123.3,292.7 124.5,293.1 125.2,294.0 126.5,294.3 127.3,295.2 127.8,296.3 128.9,296.7 130.1,297.1 131.0,298.0 132.2,298.4 133.1,299.3 134.3,299.6 135.6,300.2 136.2,298.2 137.5,298.8 138.6,299.2 139.9,298.4 140.8,299.6 142.2,299.0 143.1,300.6 144.4,300.4 145.7,300.4 146.8,301.5 148.1,300.7 149.5,300.0 150.5,301.2 151.8,301.2 152.9,301.8 154.0,302.7 155.4,302.0 156.5,303.2 157.9,302.3 159.1,302.4 160.3,302.8 161.4,301.8 162.7,302.9 163.8,301.8 165.0,302.3 166.1,301.2 167.4,300.5 169.0,301.0 170.6,300.6 171.2,302.4 172.9,301.9 173.4,304.1 175.0,303.7 176.2,302.8 177.4,304.4 178.6,302.8 179.8,302.5 181.0,303.5 182.2,303.9 183.4,302.8 184.6,303.8 185.8,302.6 187.0,303.2 188.3,302.4 189.4,304.0 190.7,304.0 192.0,303.7 193.2,304.4 194.4,304.1 195.6,302.6 196.8,303.7 198.0,303.4 199.3,303.8 200.5,303.2 201.8,304.2 203.0,303.2 204.2,302.7 205.4,304.2 206.6,303.7 207.8,302.2 209.0,303.2 210.2,302.2 211.4,303.6 212.6,304.0 213.8,302.5 215.0,303.4 216.2,303.1 217.4,304.0 218.6,302.9 219.7,304.5 221.0,303.8 222.2,303.8 223.4,303.0 224.6,303.6 225.8,304.1 227.0,304.0 228.4,303.9 229.8,304.5 231.2,303.4 232.6,304.8 234.0,304.2 235.4,304.0 236.8,304.6 238.2,304.7 239.6,304.3 241.0,304.5 242.3,304.3 243.5,305.2 244.7,305.6 246.0,304.7 247.2,305.4 248.5,305.0 249.8,304.5 251.0,305.0 252.3,304.1 253.5,306.1 254.7,305.6 256.0,305.2 257.2,305.9 258.4,305.0 259.6,305.6 260.7,306.4 262.0,305.5" fill="none" stroke="#111" stroke-width="1.35" stroke-linejoin="round"/></g>
<g font-family="'Liberation Sans', Arial, sans-serif" class="t"><line x1="307.1" y1="318.5" x2="310.1" y2="318.5" stroke="#c8c8c8" stroke-width="1"/>
<line x1="307.1" y1="297.1" x2="310.1" y2="297.1" stroke="#c8c8c8" stroke-width="1"/>
<line x1="307.1" y1="275.6" x2="310.1" y2="275.6" stroke="#c8c8c8" stroke-width="1"/>
<line x1="307.1" y1="254.2" x2="310.1" y2="254.2" stroke="#c8c8c8" stroke-width="1"/>
<line x1="307.1" y1="232.8" x2="310.1" y2="232.8" stroke="#c8c8c8" stroke-width="1"/>
<line x1="307.1" y1="211.3" x2="310.1" y2="211.3" stroke="#c8c8c8" stroke-width="1"/>
<line x1="307.1" y1="189.9" x2="310.1" y2="189.9" stroke="#c8c8c8" stroke-width="1"/>
<line x1="310.1" y1="318.5" x2="310.1" y2="321.5" stroke="#c8c8c8" stroke-width="1"/>
<line x1="366.8" y1="318.5" x2="366.8" y2="321.5" stroke="#c8c8c8" stroke-width="1"/>
<line x1="423.4" y1="318.5" x2="423.4" y2="321.5" stroke="#c8c8c8" stroke-width="1"/>
<line x1="480.1" y1="318.5" x2="480.1" y2="321.5" stroke="#c8c8c8" stroke-width="1"/>
<line x1="536.7" y1="318.5" x2="536.7" y2="321.5" stroke="#c8c8c8" stroke-width="1"/>
<line x1="310.1" y1="189.9" x2="537.5" y2="189.9" stroke="#333" stroke-width="1.7"/>
<line x1="536.7" y1="189.9" x2="536.7" y2="318.5" stroke="#363636" stroke-width="1.7"/>
<line x1="310.1" y1="318.5" x2="537.5" y2="318.5" stroke="#676767" stroke-width="1.7"/>
<line x1="310.1" y1="189.1" x2="310.1" y2="319.3" stroke="#808080" stroke-width="1.7"/>
<text transform="translate(301.1,321.5) scale(0.9,1)" text-anchor="end" font-size="8.8" fill="#333">0.0</text>
<text transform="translate(301.1,300.1) scale(0.9,1)" text-anchor="end" font-size="8.8" fill="#333">0.5</text>
<text transform="translate(301.1,278.6) scale(0.9,1)" text-anchor="end" font-size="8.8" fill="#333">1.0</text>
<text transform="translate(301.1,257.2) scale(0.9,1)" text-anchor="end" font-size="8.8" fill="#333">1.5</text>
<text transform="translate(301.1,235.8) scale(0.9,1)" text-anchor="end" font-size="8.8" fill="#333">2.0</text>
<text transform="translate(301.1,214.3) scale(0.9,1)" text-anchor="end" font-size="8.8" fill="#333">2.5</text>
<text transform="translate(301.1,192.9) scale(0.9,1)" text-anchor="end" font-size="8.8" fill="#333">3.0</text>
<text transform="translate(310.1,333.0) scale(0.9,1)" text-anchor="middle" font-size="8.8" fill="#333">0</text>
<text transform="translate(366.8,333.0) scale(0.9,1)" text-anchor="middle" font-size="8.8" fill="#333">5</text>
<text transform="translate(423.4,333.0) scale(0.9,1)" text-anchor="middle" font-size="8.8" fill="#333">10</text>
<text transform="translate(480.1,333.0) scale(0.9,1)" text-anchor="middle" font-size="8.8" fill="#333">15</text>
<text transform="translate(536.7,333.0) scale(0.9,1)" text-anchor="middle" font-size="8.8" fill="#333">20</text>
<text x="428.0" y="344.7" text-anchor="middle" font-size="8.3" fill="#333">Frequency (Hz)</text>
<text transform="translate(285.0,256.0) rotate(-90)" x="0" y="0" text-anchor="middle" font-size="8.3" fill="#3a3a3a" style="stroke-width:0.08px">Fore-aft STHT magnitude</text>
<polyline points="316.3,304.0 317.2,302.8 317.1,301.4 317.3,300.0 318.2,300.8 318.5,302.0 318.9,300.9 320.1,300.3 320.0,299.0 320.5,297.9 321.6,297.2 322.0,296.0 322.8,294.9 323.9,294.0 324.0,292.5 325.1,291.8 325.0,290.3 326.0,289.5 326.0,288.0 327.0,287.3 328.0,286.5 328.6,285.4 329.5,284.6 330.0,283.5 331.4,282.6 332.0,281.0 333.5,281.1 334.5,280.0 335.2,278.8 336.5,279.0 337.8,278.7 338.5,277.5 339.7,276.8 340.5,275.9 340.8,274.6 341.4,273.5 341.9,272.3 343.5,271.9 344.2,270.8 344.6,269.5 345.6,268.9 346.7,268.3 346.9,266.8 347.9,266.2 348.1,264.8 349.6,264.3 350.7,263.5 351.1,262.2 351.2,260.8 352.6,259.9 352.8,258.5 354.0,257.4 353.4,255.7 354.4,254.5 355.3,253.3 356.1,252.0 356.5,250.5 357.5,249.2 358.5,248.0 359.2,246.6 360.3,245.6 361.7,244.8 361.8,246.1 362.3,247.3 363.3,248.3 364.1,247.2 364.6,246.0 364.6,244.5 365.8,243.6 366.2,244.7 367.3,245.0 367.5,246.4 369.0,247.2 369.1,248.7 369.8,249.9 369.7,251.3 370.3,252.4 371.4,253.2 372.0,254.2 372.3,255.4 373.0,256.4 374.0,257.2 374.6,258.3 375.1,259.4 374.9,260.9 376.0,261.7 376.3,262.9 376.8,264.1 377.7,265.1 378.2,266.3 379.4,267.2 379.5,268.6 380.8,269.1 380.1,271.0 381.7,271.4 382.7,272.1 382.8,273.5 383.2,274.8 383.7,276.0 385.2,276.6 385.2,278.1 386.0,279.2 386.8,280.2 387.1,281.4 388.4,282.1 388.9,283.2 388.0,285.0 389.3,285.7 389.4,287.1 390.6,287.9 391.1,289.1 392.2,290.0 392.5,291.3 392.8,292.5 393.9,293.0 394.5,294.0 394.6,295.6 396.0,296.3 396.2,297.6 396.8,298.6 397.2,299.8 398.5,300.4 399.4,301.6 400.3,302.8 400.1,304.5 401.6,304.9 402.5,306.1 403.6,305.6 404.7,305.4 405.8,306.1 406.9,305.1 408.3,305.8 409.6,306.1 410.7,305.3 411.9,305.0 413.2,305.6 414.4,305.4 415.5,304.5 416.9,303.9 418.1,305.0 419.4,304.8 420.8,304.5 422.0,305.3 423.2,306.3 424.7,305.4 426.0,306.2 427.3,306.5 428.5,307.3 430.0,306.8 431.2,307.2 432.4,306.9 433.6,307.2 434.9,306.9 436.0,307.6 437.1,308.5 438.3,308.6 439.6,307.4 440.9,307.1 442.0,308.0 443.3,307.6 444.5,307.8 445.7,308.8 447.0,308.2 448.2,309.0 449.4,308.9 450.7,307.7 451.8,309.0 453.0,308.6 454.2,309.0 455.5,308.9 456.7,309.6 458.0,308.8 459.2,308.0 460.4,308.2 461.6,309.2 462.8,309.5 464.0,308.8 465.2,309.1 466.4,308.4 467.6,308.9 468.8,309.2 470.0,308.7 471.2,308.0 472.5,308.4 473.7,308.2 475.0,308.6 476.2,307.9 477.5,308.5 478.7,307.9 480.0,308.4 481.2,307.9 482.4,307.8 483.6,308.6 484.8,307.5 486.0,308.3 487.2,308.6 488.4,307.7 489.6,307.5 490.8,308.9 492.0,308.2 493.2,307.7 494.4,308.9 495.6,308.8 496.8,308.8 498.0,308.1 499.2,307.5 500.4,308.0 501.6,307.4 502.8,308.7 504.0,308.0 505.2,308.6 506.4,308.2 507.6,307.9 508.8,307.7 510.0,308.0 511.2,308.6 512.4,308.0 513.6,308.3 514.8,307.5 516.0,308.1 517.2,307.6 518.4,307.3 519.6,308.5 520.8,308.2 522.0,308.1 523.2,307.5 524.4,308.7 525.6,307.6 526.8,307.9 528.0,308.0 529.3,307.4 530.7,307.6 532.0,308.6 533.3,307.7 534.7,307.4 536.0,308.0" fill="none" stroke="#a0a0a0" stroke-width="1.3" stroke-linejoin="round"/>
<polyline points="316.5,306.0 317.0,304.7 317.3,303.3 318.0,302.0 318.9,301.0 318.6,299.6 319.9,298.8 320.0,297.5 320.2,296.2 321.6,295.4 322.0,294.2 322.5,293.0 323.1,291.7 324.1,290.7 325.0,289.5 325.4,288.3 326.0,287.1 326.6,286.0 327.5,285.0 328.0,283.9 329.2,283.3 329.8,282.3 330.0,281.0 331.0,280.2 331.0,278.7 331.8,277.7 333.0,277.0 333.3,275.7 333.4,274.2 334.5,273.2 334.5,271.7 335.7,270.7 335.7,269.2 336.5,268.2 338.0,268.3 338.9,267.5 339.6,266.3 340.3,265.1 341.4,264.3 341.8,263.0 343.3,262.5 343.8,261.2 344.6,260.2 345.0,259.0 345.9,258.2 346.9,257.5 347.0,256.1 347.9,255.3 348.6,254.3 348.8,253.1 349.4,252.1 350.3,251.3 351.2,250.2 351.7,248.9 351.9,247.5 352.8,246.4 352.9,245.0 353.4,243.7 354.3,242.5 354.7,241.2 355.2,239.9 355.6,238.8 356.1,237.7 357.1,236.9 357.6,235.8 358.8,235.2 360.0,234.5 360.9,233.4 361.8,232.6 362.3,231.5 363.3,230.9 364.1,232.0 365.0,233.2 364.9,234.8 365.7,236.1 366.1,237.4 366.1,238.8 367.1,239.9 366.7,241.4 367.3,242.6 367.8,243.7 367.6,245.0 367.9,246.1 368.6,247.2 368.9,248.3 369.8,249.3 369.4,250.8 370.2,251.9 370.6,253.1 370.6,254.3 371.5,255.3 371.9,256.4 371.6,257.7 372.2,258.8 372.6,259.9 373.2,261.0 373.3,262.2 373.4,263.4 373.8,264.5 374.6,265.5 374.4,266.8 374.8,267.9 375.1,269.1 375.4,270.2 376.2,271.3 376.0,272.7 376.4,274.0 377.1,275.1 377.1,276.3 377.9,277.3 377.9,278.6 378.5,279.6 378.7,280.8 378.9,282.1 379.9,283.1 379.5,284.6 380.3,285.7 380.2,287.0 381.0,287.9 381.3,289.1 381.6,290.2 382.0,291.3 382.6,292.4 383.7,293.1 383.6,294.7 384.6,295.5 385.5,296.3 386.2,297.3 386.9,298.2 387.4,299.3 387.9,300.4 388.4,301.6 389.9,302.2 390.6,303.2 391.1,304.5 392.1,305.5 393.5,305.9 394.4,306.9 395.6,306.4 396.9,307.0 398.1,307.0 399.3,306.9 400.5,306.7 401.7,306.7 402.8,305.9 404.1,306.1 405.5,306.3 406.8,306.0 408.0,305.2 409.3,305.1 410.7,305.3 412.0,305.1 413.3,305.0 414.6,304.6 415.9,304.3 417.2,304.5 418.5,304.2 419.8,303.8 421.1,304.1 422.4,304.2 423.7,303.7 424.9,303.3 426.2,303.6 427.5,303.7 428.7,303.0 430.0,303.3 431.2,303.6 432.4,303.6 433.6,303.0 434.8,303.0 436.0,303.0 437.2,303.2 438.4,302.7 439.6,302.5 440.9,302.9 442.0,302.3 443.3,302.5 444.5,301.9 445.7,301.7 447.0,301.9 448.2,301.7 449.4,301.7 450.6,302.2 451.8,302.0 453.0,301.6 454.3,302.0 455.5,301.8 456.8,301.8 458.0,301.4 459.2,301.0 460.4,301.5 461.6,302.0 462.8,302.0 464.0,301.6 465.3,301.4 466.5,301.7 467.7,302.0 469.0,301.9 470.2,301.8 471.4,301.9 472.6,301.5 473.8,301.8 475.0,301.9 476.2,301.9 477.5,301.4 478.8,301.5 480.0,301.9 481.2,302.4 482.4,302.2 483.6,302.4 484.8,302.1 486.0,302.0 487.2,302.3 488.4,302.5 489.6,302.5 490.8,301.7 492.0,302.2 493.3,302.4 494.7,302.0 496.0,302.5 497.3,302.1 498.7,302.4 500.0,302.4 501.2,302.9 502.4,302.6 503.6,302.3 504.8,302.7 506.0,302.7 507.2,302.7 508.4,303.3 509.6,302.7 510.8,302.7 512.0,303.0 513.3,303.2 514.7,302.8 516.0,303.3 517.3,303.8 518.7,303.4 520.0,303.5 521.3,303.3 522.7,303.6 524.0,303.7 525.3,303.3 526.7,303.4 528.0,303.8 529.3,303.5 530.7,303.7 532.0,303.9 533.3,303.8 534.7,303.8 536.0,304.1" fill="none" stroke="#1a1a1a" stroke-width="1.15" stroke-dasharray="2.2,1.9"/>
<polyline points="316.5,302.7 317.7,303.6 317.3,305.0 317.6,303.8 318.4,302.7 318.1,301.4 318.2,300.2 318.6,299.0 317.9,297.6 319.1,296.6 318.9,295.3 319.5,296.4 319.9,297.5 320.6,298.6 321.3,297.6 321.5,296.3 321.7,295.0 322.0,293.8 323.0,292.9 323.1,291.6 324.2,290.9 324.6,289.7 325.4,288.8 326.2,287.9 325.8,286.3 327.0,285.6 327.9,284.8 329.3,284.1 329.1,282.3 330.3,281.5 331.4,281.5 332.4,281.3 333.2,280.5 333.8,279.4 334.9,278.9 336.7,279.0 337.3,277.3 337.8,275.9 339.4,275.4 339.8,274.0 340.0,272.5 340.7,271.3 342.2,270.8 343.6,270.3 343.7,268.7 343.9,267.2 345.4,266.7 346.4,265.7 347.5,265.0 348.7,264.3 349.9,263.5 349.6,261.6 351.1,261.0 351.2,259.7 353.1,259.3 352.8,257.8 353.8,256.6 353.2,254.8 354.4,253.7 354.6,252.2 355.2,250.9 356.0,249.6 357.1,248.8 357.9,247.6 358.5,246.4 360.1,245.6 361.5,244.7 361.7,243.1 362.6,241.5 363.3,241.2 363.6,242.8 365.0,243.6 366.2,243.5 367.3,243.4 367.4,244.8 368.0,246.1 368.5,247.3 369.6,248.3 370.2,249.5 370.3,251.0 371.0,252.1 372.0,253.1 371.8,254.6 373.9,254.9 373.1,256.7 374.4,257.4 375.8,258.1 374.8,259.9 375.6,260.8 376.2,261.9 376.7,263.0 376.2,264.5 377.4,265.4 378.2,266.4 377.9,267.9 378.9,268.8 378.8,270.3 379.8,271.2 380.9,272.2 381.2,273.5 381.8,274.5 382.4,275.6 382.4,276.9 383.4,277.8 384.4,278.7 384.9,279.9 385.2,281.2 386.0,282.2 386.8,283.1 387.6,284.1 387.4,285.7 388.5,286.4 388.8,287.8 390.2,288.1 391.1,289.0 392.3,289.7 393.7,290.1 394.4,291.5 395.5,292.2 396.6,293.0 396.7,294.6 397.6,295.5 398.6,294.8 398.7,293.3 400.1,293.1 399.9,294.6 401.6,295.0 401.3,296.5 402.5,297.2 403.4,298.2 404.5,298.7 405.8,298.0 407.1,298.0 408.0,298.9 409.0,299.6 409.7,300.9 411.6,299.7 412.3,301.2 413.8,300.5 414.9,301.9 416.3,302.0 417.3,302.6 417.9,304.0 419.1,304.4 420.4,304.5 421.6,304.8 422.7,305.9 424.1,305.1 425.3,305.3 426.5,305.5 427.6,306.1 428.9,305.7 430.0,306.1 431.2,305.9 432.4,306.5 433.6,306.1 434.7,307.4 436.0,306.6 437.2,307.0 438.4,306.8 439.6,305.9 440.8,306.6 442.0,306.9 443.2,306.7 444.5,307.0 445.8,307.0 447.0,306.8 448.2,307.7 449.4,308.1 450.8,307.2 452.0,307.4 453.2,307.4 454.4,307.9 455.5,308.7 456.8,307.5 458.0,307.9 459.2,307.8 460.5,308.3 461.5,306.8 462.8,307.0 464.0,307.2 465.2,308.2 466.4,307.8 467.6,307.1 468.8,306.2 470.0,307.0 471.3,307.8 472.5,307.3 473.8,307.6 475.0,306.9 476.3,307.9 477.5,307.7 478.7,306.7 480.0,306.8 481.2,306.0 482.4,306.3 483.6,306.7 484.8,306.7 486.0,306.6 487.2,305.9 488.4,305.9 489.6,306.8 490.8,306.7 492.0,306.4 493.2,306.1 494.4,307.4 495.6,306.6 496.8,305.3 498.0,306.2 499.2,306.0 500.4,306.7 501.6,305.6 502.8,306.4 504.0,305.9 505.3,304.8 506.6,305.4 508.0,305.7 509.1,306.5 510.4,306.1 511.6,306.4 512.9,305.5 514.0,306.2 515.2,306.3 516.4,306.6 517.6,306.1 518.8,307.0 520.0,306.8 521.2,306.9 522.3,308.0 523.6,307.2 524.8,306.9 526.0,307.2 527.3,306.5 528.6,306.7 529.7,308.0 531.0,307.6 532.3,306.9 533.6,306.9 534.8,307.1 536.0,307.9" fill="none" stroke="#111" stroke-width="1.35" stroke-linejoin="round"/></g>
<text x="274" y="181.5" text-anchor="middle" font-family="'Liberation Serif', 'Times New Roman', serif" font-size="14" fill="#111" stroke="#111" stroke-width="0.2">(a)</text>
<text x="274" y="361.8" text-anchor="middle" font-family="'Liberation Serif', 'Times New Roman', serif" font-size="14" fill="#111" stroke="#111" stroke-width="0.2">(b)</text>
</svg>
</body></html>
